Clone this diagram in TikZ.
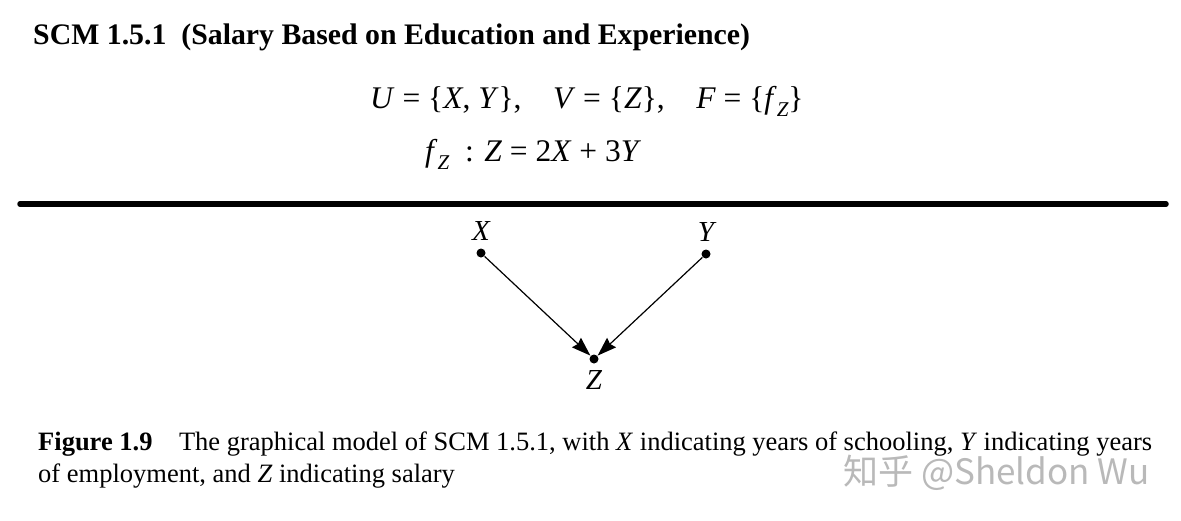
\documentclass[tikz,border=0pt]{standalone}
\usepackage{fontspec}
\setmainfont{Liberation Serif}
\newfontfamily\cjk{Noto Sans CJK SC}
\usetikzlibrary{arrows.meta}
\newcommand\subZ{\raisebox{-0.28em}{\fontsize{21}{21}\selectfont\itshape Z}}
\begin{document}
\begin{tikzpicture}[x=1pt,y=-1pt,
  dot/.style={circle,fill,inner sep=0pt,minimum size=9pt,outer sep=0.5pt},
  var/.style={font=\fontsize{29}{31}\selectfont\itshape},
  edge/.style={-{Stealth[length=19pt,width=13pt,inset=2pt]},line width=1.2pt},
  txt/.style={anchor=base west,inner sep=0pt}]
\useasboundingbox (0,0) rectangle (1181,520);
\node[txt,font=\fontsize{29.8}{31}\selectfont\bfseries] (title) at (33,44) {SCM 1.5.1\ \ (Salary Based on Education and Experience)};
\node[txt,font=\fontsize{31.5}{33}\selectfont] (eqA) at (370,108) {\textit{U} = \{\textit{X}, \textit{Y}\},\quad \textit{V} = \{\textit{Z}\},\quad \textit{F} = \{\textit{f}\subZ\}};
\node[txt,font=\fontsize{31.5}{33}\selectfont] (eqB) at (425,161) {\textit{f}\subZ\ \ : \textit{Z} = 2\textit{X} + 3\textit{Y}};
\draw[line width=5.5pt,line cap=round] (20,204) -- (1166,204);
\node[dot,label={[var,inner sep=7pt]above:X}] (x) at (481,253) {};
\node[dot,label={[var,inner sep=7pt]above:Y}] (y) at (706,254) {};
\node[dot,label={[var,inner sep=6pt]below:Z}] (z) at (594,359) {};
\draw[edge] (x) -- (z);
\draw[edge] (y) -- (z);
\node[txt,font=\fontsize{26.5}{28}\selectfont] (capA) at (38,450) {\textbf{Figure 1.9}\quad The graphical model of SCM 1.5.1, with \textit{X} indicating years of schooling, \textit{Y} indicating years};
\node[txt,font=\fontsize{26.5}{28}\selectfont] (capB) at (38,482) {of employment, and \textit{Z} indicating salary};
\node[txt,font=\cjk\fontsize{35}{37}\selectfont,text=gray!55] (mark) at (843,484) {知乎 @Sheldon Wu};
\end{tikzpicture}
\end{document}
